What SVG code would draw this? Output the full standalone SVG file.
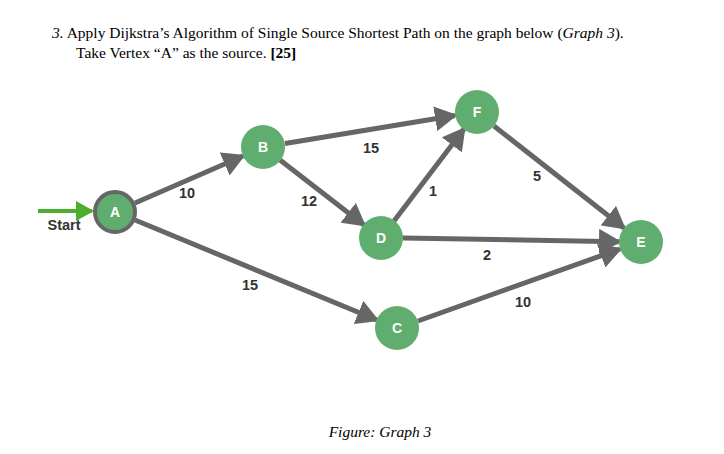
<svg xmlns="http://www.w3.org/2000/svg" width="724" height="454" viewBox="0 0 724 454">
<style>
.t{font-family:"Liberation Serif",serif;font-size:15.5px;fill:#000}
.e{stroke:#666;stroke-width:5;fill:none;marker-end:url(#ah)}
.n{fill:#5fae6f}
.nl{font-family:"Liberation Sans",Arial,sans-serif;font-weight:bold;font-size:14px;fill:#fff;text-anchor:middle}
.w{font-family:"Liberation Sans",Arial,sans-serif;font-weight:bold;font-size:14.5px;fill:#333;text-anchor:middle}
</style>
<defs>
<marker id="ah" markerWidth="5" markerHeight="5" refX="4" refY="2.5" orient="auto" markerUnits="strokeWidth"><path d="M0,0 L4.5,2.5 L0,5 Z" fill="#666"/></marker>
<marker id="gh" markerWidth="5" markerHeight="5" refX="4" refY="2.5" orient="auto" markerUnits="strokeWidth"><path d="M0,0 L4.5,2.5 L0,5 Z" fill="#4cae2c"/></marker>
</defs>
<rect width="724" height="454" fill="#fff"/>
<text class="t" x="52" y="38"><tspan font-style="italic">3.</tspan>  Apply Dijkstra’s Algorithm of Single Source Shortest Path on the graph below (<tspan font-style="italic">Graph 3</tspan>).</text>
<text class="t" x="76" y="58">Take Vertex “A” as the source. <tspan font-weight="bold">[25]</tspan></text>
<g id="connectors">
<line x1="38" y1="211" x2="92" y2="211" stroke="#4cae2c" stroke-width="4" marker-end="url(#gh)"/>
<line class="e" x1="135" y1="203" x2="243" y2="156"/>
<line class="e" x1="285" y1="143.5" x2="455" y2="115.5"/>
<line class="e" x1="280" y1="160" x2="364" y2="225"/>
<line class="e" x1="135" y1="220" x2="377" y2="320"/>
<line class="e" x1="394" y1="221" x2="464" y2="129"/>
<line class="e" x1="403" y1="238" x2="619" y2="241.7"/>
<line class="e" x1="494" y1="126" x2="624" y2="228"/>
<line class="e" x1="418" y1="321" x2="620" y2="249"/>
<text class="w" x="187" y="198">10</text>
<text class="w" x="309" y="206">12</text>
<text class="w" x="371" y="153">15</text>
<text class="w" x="433" y="196">1</text>
<text class="w" x="537" y="181">5</text>
<text class="w" x="487" y="260">2</text>
<text class="w" x="250" y="290">15</text>
<text class="w" x="523" y="307">10</text>
<text class="w" x="64" y="230">Start</text>
</g>
<g id="A"><circle class="n" cx="115" cy="212" r="20" stroke="#666" stroke-width="4"/><text class="nl" x="115" y="217">A</text></g>
<g id="B"><circle class="n" cx="263" cy="147" r="22"/><text class="nl" x="263" y="152">B</text></g>
<g id="F"><circle class="n" cx="477" cy="112" r="22"/><text class="nl" x="477" y="117">F</text></g>
<g id="D"><circle class="n" cx="381" cy="238" r="22"/><text class="nl" x="381" y="243">D</text></g>
<g id="E"><circle class="n" cx="641" cy="242" r="22"/><text class="nl" x="641" y="247">E</text></g>
<g id="C"><circle class="n" cx="397" cy="328" r="22"/><text class="nl" x="397" y="333">C</text></g>
<text class="t" x="380" y="437" text-anchor="middle" font-style="italic">Figure: Graph 3</text>
</svg>
